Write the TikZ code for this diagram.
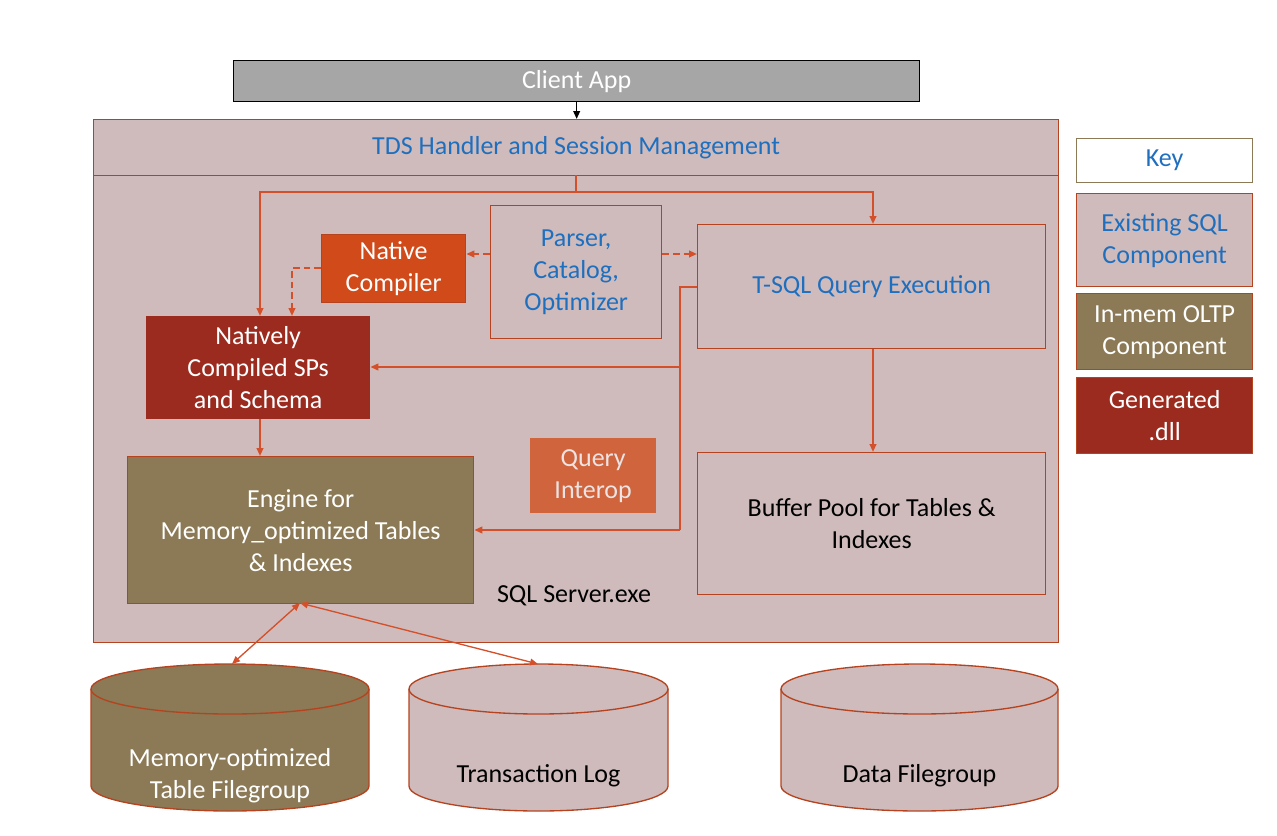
\documentclass[tikz,border=0pt]{standalone}
\usepackage{fontspec}
\setmainfont{Carlito}
\usetikzlibrary{arrows.meta}
\definecolor{pinkbg}{HTML}{CFBBBB}
\definecolor{bord}{HTML}{B5431F}
\definecolor{arr}{HTML}{D4502A}
\definecolor{bluet}{HTML}{1F6FBF}
\definecolor{olive}{HTML}{8B7A55}
\definecolor{dred}{HTML}{9B2B1F}
\definecolor{ncomp}{HTML}{D04A1A}
\definecolor{qint}{HTML}{D0643C}
\begin{document}
\begin{tikzpicture}[x=0.75pt,y=-0.75pt,
  font=\fontsize{19.5}{24}\selectfont,
  box/.style={draw=bord,line width=1pt,anchor=north west,inner sep=0pt,align=center},
  ex/.style={box,fill=pinkbg,text=bluet},
  wh/.style={box,text=white},
  ar/.style={draw=arr,line width=1.4pt,-{Triangle[length=6pt,width=5pt]}},
  da/.style={ar,dash pattern=on 5pt off 3pt},
  dar/.style={draw=arr,line width=1pt,{Triangle[length=6pt,width=5pt]}-{Triangle[length=6pt,width=5pt]}}]
\useasboundingbox (0,0) rectangle (1277,835);
% outer
\node[box,fill=pinkbg,minimum width=965*0.75pt,minimum height=523*0.75pt] (outer) at (93,119) {};
\node[box,fill=pinkbg,text=bluet,minimum width=965*0.75pt,minimum height=56*0.75pt] (tds) at (93,119) {TDS Handler and Session Management};
\node[box,draw=black,fill=black!35,text=white,minimum width=686*0.75pt,minimum height=41*0.75pt] (client) at (233,60) {Client App};
\node[ex,minimum width=171*0.75pt,minimum height=133*0.75pt] (parser) at (490,205) {Parser,\\Catalog,\\Optimizer};
\node[ex,minimum width=348*0.75pt,minimum height=124*0.75pt] (tsql) at (697,224) {T-SQL Query Execution};
\node[wh,fill=ncomp,minimum width=144*0.75pt,minimum height=68*0.75pt] (nc) at (321,234) {Native\\Compiler};
\node[wh,draw=dred,fill=dred,minimum width=223*0.75pt,minimum height=102*0.75pt] (ncsp) at (146,316) {Natively\\Compiled SPs\\and Schema};
\node[box,draw=bord,fill=olive,text=white,minimum width=346*0.75pt,minimum height=147*0.75pt] (eng) at (127,456) {Engine for\\Memory\_optimized Tables\\\& Indexes};
\node[wh,draw=qint,fill=qint,text=pinkbg!40,minimum width=125*0.75pt,minimum height=74*0.75pt] (qi) at (530,438) {Query\\Interop};
\node[ex,text=black,minimum width=348*0.75pt,minimum height=142*0.75pt] (bp) at (697,452) {Buffer Pool for Tables \&\\Indexes};
\node[anchor=center] (sqlexe) at (574,596) {SQL Server.exe};
% key
\node[box,draw=olive,fill=white,text=bluet,minimum width=176*0.75pt,minimum height=44*0.75pt] (key) at (1076,138) {Key};
\node[ex,minimum width=176*0.75pt,minimum height=93*0.75pt] (k1) at (1076,193) {Existing SQL\\Component};
\node[box,draw=bord,fill=olive,text=white,minimum width=176*0.75pt,minimum height=76*0.75pt] (k2) at (1076,293) {In-mem OLTP\\Component};
\node[box,draw=bord,fill=dred,text=white,minimum width=176*0.75pt,minimum height=76*0.75pt] (k3) at (1076,377) {Generated\\.dll};
% cylinders
\foreach \n/\xa/\xb/\fc/\tc/\txt in {cm/91/369/olive/white/{Memory-optimized\\Table Filegroup}, ct/409/668/pinkbg/black/{Transaction Log}, cd/781/1058/pinkbg/black/{Data Filegroup}}{
  \pgfmathsetmacro{\xm}{(\xa+\xb)/2}
  \pgfmathsetmacro{\rx}{(\xb-\xa)/2}
  \fill[\fc,draw=bord,line width=1pt] (\xa,689) -- (\xa,786) arc[start angle=180,end angle=360,x radius=\rx,y radius=-25] -- (\xb,689) arc[start angle=0,end angle=180,x radius=\rx,y radius=-25] -- cycle;
  \draw[bord,line width=1pt] (\xa,689) arc[start angle=180,end angle=360,x radius=\rx,y radius=-25];
  \node[align=center,text=\tc] (\n) at (\xm,\ifx\tc\relax 0\else 776\fi) {\txt};
}
\coordinate (cmt) at (232,664);
\coordinate (ctt) at (538,664);
\coordinate (engb) at (300,603);
% connectors
\draw[line width=1.2pt,-{Triangle[length=6pt,width=5pt]}] (client.south) -- (tds.north -| client.south);
\coordinate (j) at (576,192);
\draw[draw=arr,line width=1.4pt] (576,175) -- (j);
\draw[ar] (j) -| (ncsp.north -| 260,0);
\draw[ar] (j) -| (tsql.north -| 873,0);
\draw[da] (parser.west |- 0,254) -- (nc.east |- 0,254);
\draw[da] (parser.east |- 0,254) -- (tsql.west |- 0,254);
\draw[da] (nc.west |- 0,268) -| (ncsp.north -| 292,0);
\coordinate (v) at (680,287);
\draw[draw=arr,line width=1.4pt] (tsql.west |- v) -- (v) -- (680,530);
\draw[ar] (680,367) -- (ncsp.east |- 0,367);
\draw[ar] (680,530) -- (eng.east |- 0,530);
\draw[ar] (ncsp.south -| 260,0) -- (eng.north -| 260,0);
\draw[ar] (tsql.south -| 873,0) -- (bp.north -| 873,0);
\draw[dar] (engb) -- (cmt);
\draw[dar] (engb) -- (ctt);
\end{tikzpicture}
\end{document}
